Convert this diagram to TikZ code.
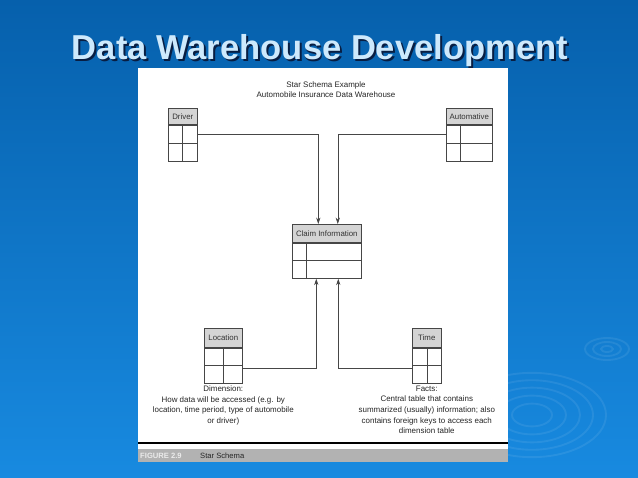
\documentclass[tikz,border=0pt]{standalone}
\usepackage{fontspec}
\setmainfont{Liberation Sans}
\usetikzlibrary{arrows.meta,positioning,calc}

\definecolor{slidetop}{RGB}{6,96,172}
\definecolor{slidebottom}{RGB}{24,138,224}
\definecolor{titlefill}{RGB}{205,233,252}
\definecolor{titleshade}{RGB}{8,30,66}
\definecolor{headgray}{RGB}{212,212,212}
\definecolor{bargray}{RGB}{178,178,178}
\definecolor{inkgray}{RGB}{70,70,70}

\newcommand{\pxu}{0.03cm}
% one table: name, x, y, width, header height, column split, header text
\newcommand{\startable}[7]{%
  \node[tblhead, minimum width=#4*\pxu, minimum height=#5*\pxu] (#1) at (#2,#3) {#7};
  \node[tblbody, minimum width=#4*\pxu, minimum height=35.5*\pxu] (#1-body) at (#1.south) {};
  \draw[inkgray, line width=0.5pt] (#1-body.west) -- (#1-body.east)
    ($(#1-body.north west)!#6!(#1-body.north east)$) -- ($(#1-body.south west)!#6!(#1-body.south east)$);
}
% title text with its drop shadow
\newcommand{\shadowtext}[1]{%
  \rlap{\kern1.7pt\raisebox{-1.7pt}{\color{titleshade}#1}}{\color{titlefill}#1}}

\tikzset{
  tblhead/.style={draw=inkgray, fill=headgray, line width=0.5pt, inner sep=0pt,
    font=\fontsize{6.7}{8}\selectfont, text=black!80, anchor=north west},
  tblbody/.style={draw=inkgray, fill=white, line width=0.5pt, inner sep=0pt, anchor=north},
  link/.style={draw=inkgray, line width=0.5pt, -{Stealth[length=5.5pt,width=3.6pt]}},
  note/.style={font=\fontsize{6.8}{9}\selectfont, align=center, text=black!85, inner sep=0pt},
  ripple/.style={draw=white, line width=1.6pt, opacity=0.08},
  slidetitle/.style={font=\bfseries\fontsize{29.5}{34}\selectfont},
}

\begin{document}
\begin{tikzpicture}[x=0.03cm, y=-0.03cm]
  \useasboundingbox (0,0) rectangle (638,478);
  % slide background
  \shade[top color=slidetop, bottom color=slidebottom] (0,0) rectangle (638,478);
  \foreach \r in {6,14,22}
    \draw[ripple] (607,349) ellipse ({\r} and {0.5*\r});
  \foreach \r in {20,34,48,61,74}
    \draw[ripple] (532,415) ellipse ({\r} and {0.57*\r});

  % title
  \node[slidetitle] (title) at (320,52) {\shadowtext{Data Warehouse Development}};

  % figure panel
  \fill[white] (138,68) rectangle (508,462);
  \node[note] (heading) at (326,89.5) {Star Schema Example\\Automobile Insurance Data Warehouse};

  % tables
  \startable{driver}{168}{108}{29}{16.5}{0.48}{Driver}
  \startable{automative}{446}{108}{46}{16.5}{0.3}{Automative}
  \startable{claim}{292}{224}{69}{18}{0.2}{Claim Information}
  \startable{location}{204}{328}{38}{19}{0.5}{Location}
  \startable{time}{412}{328}{29}{19}{0.5}{Time}

  % connectors
  \draw[link] ($(driver-body.north east)!0.25!(driver-body.south east)$) -| ([xshift=-8.5*\pxu]claim.north);
  \draw[link] ($(automative-body.north west)!0.25!(automative-body.south west)$) -| ([xshift=11*\pxu]claim.north);
  \draw[link] ($(location-body.north east)!0.58!(location-body.south east)$) -| ([xshift=-10.5*\pxu]claim-body.south);
  \draw[link] ($(time-body.north west)!0.58!(time-body.south west)$) -| ([xshift=11.5*\pxu]claim-body.south);

  % captions
  \node[note, below=2*\pxu of location-body] (dimnote) {Dimension:\\How data will be accessed (e.g. by\\location, time period, type of automobile\\or driver)};
  \node[note, below=2*\pxu of time-body] (factnote) {Facts:\\Central table that contains\\summarized (usually) information; also\\contains foreign keys to access each\\dimension table};

  % figure caption bar
  \draw[black, line width=0.9pt] (138,443) -- (508,443);
  \fill[bargray] (138,449) rectangle (508,462);
  \node[font=\bfseries\fontsize{6.5}{8}\selectfont, text=white!92!black, anchor=west, inner sep=0pt] (fignum) at (140,455.5) {FIGURE 2.9};
  \node[font=\fontsize{6.5}{8}\selectfont, text=black!85, anchor=west, inner sep=0pt] (figname) at (200,455.5) {Star Schema};
\end{tikzpicture}
\end{document}
